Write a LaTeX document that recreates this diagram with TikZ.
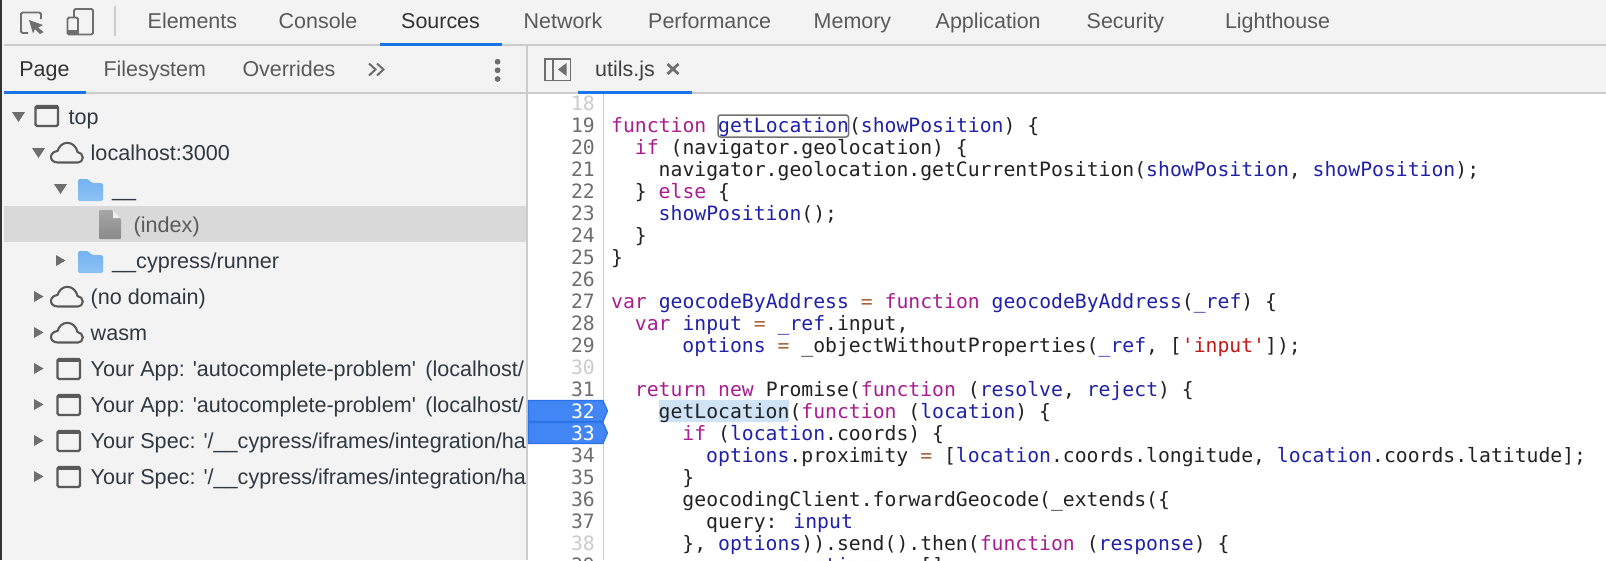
\documentclass[tikz,border=0pt]{standalone}
\usepackage{fontspec}
\setmainfont{Liberation Sans}
\newfontfamily\codefont[Ligatures=NoCommon]{DejaVu Sans Mono}
\definecolor{panelbg}{HTML}{F3F3F3}
\definecolor{rule}{HTML}{CCCCCC}
\definecolor{tabblue}{HTML}{1A73E8}
\definecolor{uitext}{HTML}{5A5A5A}
\definecolor{treetext}{HTML}{303942}
\definecolor{icongrey}{HTML}{6E6E6E}
\definecolor{kwcol}{HTML}{AA1D91}
\definecolor{varcol}{HTML}{1F22A8}
\definecolor{opcol}{HTML}{A8653A}
\definecolor{strcol}{HTML}{C41A16}
\definecolor{codecol}{HTML}{222222}
\definecolor{foldertop}{HTML}{74B2F0}
\definecolor{folderbot}{HTML}{8DC2F5}
\definecolor{bpfill}{HTML}{4285F4}
\definecolor{bpedge}{HTML}{2A73E8}
\definecolor{selrow}{HTML}{D9D9D9}
\definecolor{wordhl}{HTML}{CFE3F7}
\newcommand\kwd[1]{\textcolor{kwcol}{#1}}
\newcommand\vrb[1]{\textcolor{varcol}{#1}}
\newcommand\opr[1]{\textcolor{opcol}{#1}}
\newcommand\strg[1]{\textcolor{strcol}{#1}}
\tikzset{
  x=1pt,y=-1pt,
  uilabel/.style={inner sep=0pt,anchor=base west,text=uitext,font=\fontsize{21.45}{24}\selectfont},
  treelabel/.style={inner sep=0pt,anchor=base west,text=treetext,font=\fontsize{21.6}{24}\selectfont},
  codetext/.style={inner sep=0pt,anchor=base west,text=codecol,font=\codefont\fontsize{19.75}{22}\selectfont},
  gutternum/.style={inner sep=0pt,anchor=base east,text=#1,font=\codefont\fontsize{19.75}{22}\selectfont},
  gutternum/.default={icongrey},
  tri/.style={fill=icongrey,draw=none},
  iconline/.style={draw=icongrey,line width=1.8pt},
  winline/.style={draw=uitext,line width=2.2pt,rounded corners=1.5pt},
  cloudline/.style={draw=uitext,line width=2.1pt,line join=round},
  folder/.style={top color=foldertop,bottom color=folderbot,draw=none,rounded corners=1.5pt},
  bpmark/.style={draw=bpedge,fill=bpfill,line width=1.2pt},
}
\newcommand\codeln[3]{\node[codetext,name=c#1] at ({611+#2*11.88},{132+(#1-19)*22}) {#3};}
\newcommand\gnum[2][icongrey]{\node[gutternum=#1,name=n#2] at (595,{132+(#2-19)*22}) {#2};}
\newcommand\cloudicon[1]{\begin{scope}[shift={(51,#1)}]
  \draw[cloudline] (7,20.5) .. controls (2,20.5) and (0,17.5) .. (0,15) .. controls (0,11.5) and (3,9.5) .. (6.5,9) .. controls (8,4) and (12,0.8) .. (16.5,0.8) .. controls (21.5,0.8) and (25.5,5) .. (26.5,10) .. controls (29.5,10.5) and (31.8,12.5) .. (31.8,15.5) .. controls (31.8,18.5) and (29.5,20.5) .. (27,20.5) -- cycle;
\end{scope}}
\newcommand\winicon[2]{\begin{scope}[shift={(#1,#2)}]
  \draw[winline] (1,1) rectangle (23.5,21);
  \fill[uitext] (1,0) rectangle (23.5,4);
\end{scope}}
\newcommand\folderx[1]{\begin{scope}[shift={(78,#1)}]
  \path[folder] (0,0) -- (10,0) -- (14,4) -- (25,4) -- (25,22) -- (0,22) -- cycle;
\end{scope}}
\newcommand\tridown[2]{\fill[tri] (#1,#2) -- ({#1+13},#2) -- ({#1+6.5},{#2+10}) -- cycle;}
\newcommand\triright[2]{\fill[tri] (#1,#2) -- ({#1+9.5},{#2+5.5}) -- (#1,{#2+11}) -- cycle;}
\begin{document}
\begin{tikzpicture}
\useasboundingbox (0,0) rectangle (1606,560);
% backgrounds
\fill[panelbg] (0,0) rectangle (1606,560);
\fill[white] (527,94) rectangle (1606,560);
\fill[black!80] (0,0) rectangle (2,560);
% rules
\fill[rule] (4,44) rectangle (1606,46);
\fill[rule] (4,92) rectangle (1606,94);
\fill[rule] (525.5,46) rectangle (527.5,560);
\fill[rule] (114,6) rectangle (116,36);
\fill[rule] (602.5,94) rectangle (604,560);
\fill[tabblue] (380,43) rectangle (502,46);
\fill[tabblue] (4,91) rectangle (86,94);
\fill[tabblue] (578,91) rectangle (692,94);
% toolbar icons
\draw[iconline,rounded corners=1.5pt] (28,33) -- (21,33) -- (21,12.5) -- (41,12.5) -- (41,19);
\fill[icongrey] (29,20) -- (43,25) -- (38,27.5) -- (43.5,32) -- (40,34) -- (35,29) -- (33,33.5) -- cycle;
\draw[iconline,rounded corners=1.5pt] (74,17) -- (74,9) -- (93,9) -- (93,34.5) -- (78,34.5);
\draw[iconline,rounded corners=1.5pt] (67.5,17.5) rectangle (78,34.5);
\fill[icongrey] (67.5,29.5) rectangle (78,34.5);
% top tabs
\node[uilabel,name=tElements] at (147.5,28.5) {Elements};
\node[uilabel,name=tConsole] at (278.5,28.5) {Console};
\node[uilabel,name=tSources,text=black!80] at (401,28.5) {Sources};
\node[uilabel,name=tNetwork] at (523.5,28.5) {Network};
\node[uilabel,name=tPerformance] at (648,28.5) {Performance};
\node[uilabel,name=tMemory] at (813.5,28.5) {Memory};
\node[uilabel,name=tApplication] at (935.5,28.5) {Application};
\node[uilabel,name=tSecurity] at (1086.5,28.5) {Security};
\node[uilabel,name=tLighthouse] at (1224.8,28.5) {Lighthouse};
% second row
\node[uilabel,name=pPage,text=black!80] at (19.2,76.5) {Page};
\node[uilabel,name=pFilesystem] at (103.3,76.5) {Filesystem};
\node[uilabel,name=pOverrides] at (242.3,76.5) {Overrides};
\draw[iconline,line width=2pt] (369,63.5) -- (375.5,69.5) -- (369,75.5) (377,63.5) -- (383.5,69.5) -- (377,75.5);
\fill[icongrey] (497.6,61.7) circle (2.9) (497.6,70.3) circle (2.9) (497.6,79) circle (2.9);
% editor tab strip
\draw[iconline,line width=1.6pt] (545,58.8) rectangle (570.5,80.5) (552.7,58.8) -- (552.7,80.5);
\fill[icongrey] (566.5,63) -- (566.5,76) -- (558,69.5) -- cycle;
\node[uilabel,name=fUtils,text=black!75] at (595,76.5) {utils.js};
\draw[iconline,line width=2.7pt] (667.5,64) -- (678.5,74) (678.5,64) -- (667.5,74);
% tree
\fill[selrow] (4,206) rectangle (525.5,242);
\begin{scope}
\clip (4,94) rectangle (525.5,560);
\tridown{12}{112}
\winicon{34.5}{105}
\node[treelabel,name=r1] at (68.5,124.5) {top};
\tridown{32}{148}
\cloudicon{142}
\node[treelabel,name=r2] at (90.5,160.5) {localhost:3000};
\tridown{54}{184}
\folderx{179}
\node[treelabel,name=r3] at (112,196.5) {\_\_};
\begin{scope}[shift={(99,210)}]
  \path[top color=black!35,bottom color=black!46,rounded corners=1pt] (0,0) -- (13,0) -- (22,9) -- (22,29) -- (0,29) -- cycle;
  \fill[black!6] (14,0.5) -- (21.5,8) -- (14,8) -- cycle;
\end{scope}
\node[treelabel,name=r4,text=uitext] at (133.5,232.5) {(index)};
\triright{56}{255}
\folderx{251}
\node[treelabel,name=r5] at (112,268.5) {\_\_cypress/runner};
\triright{34}{291}
\cloudicon{286}
\node[treelabel,name=r6] at (90.5,304.5) {(no domain)};
\triright{34}{327}
\cloudicon{322}
\node[treelabel,name=r7] at (90.5,340.5) {wasm};
\triright{34}{363}
\winicon{56.5}{358}
\node[treelabel,name=r8] at (90.5,376.5) {Your App: \textquotesingle autocomplete-problem\textquotesingle\ \kern3.5pt(localhost/};
\triright{34}{399}
\winicon{56.5}{394}
\node[treelabel,name=r9] at (90.5,412.5) {Your App: \textquotesingle autocomplete-problem\textquotesingle\ \kern3.5pt(localhost/};
\triright{34}{435}
\winicon{56.5}{430}
\node[treelabel,name=r10] at (90.5,448.5) {Your Spec: \textquotesingle/\_\_cypress/iframes/integration/ha};
\triright{34}{471}
\winicon{56.5}{466}
\node[treelabel,name=r11] at (90.5,484.5) {Your Spec: \textquotesingle/\_\_cypress/iframes/integration/ha};
\end{scope}
% code area
\begin{scope}
\clip (527.5,94) rectangle (1606,560);
% highlights behind the text
\draw[draw=black!55,line width=1.5pt,rounded corners=2.5pt] (718,115) rectangle (848.5,137);
\fill[wordhl] (658.5,400) rectangle (789.2,422);
% breakpoints
\draw[bpmark] (528.5,400.5) -- (603,400.5) -- (607.5,411) -- (603,421.5) -- (528.5,421.5) -- cycle;
\draw[bpmark] (528.5,422.5) -- (603,422.5) -- (607.5,433) -- (603,443.5) -- (528.5,443.5) -- cycle;
% line numbers
\gnum[rule]{18}
\gnum{19}\gnum{20}\gnum{21}\gnum{22}\gnum{23}\gnum{24}\gnum{25}\gnum{26}\gnum{27}\gnum{28}\gnum{29}
\gnum[rule]{30}
\gnum{31}
\gnum[white]{32}\gnum[white]{33}
\gnum{34}\gnum{35}\gnum{36}\gnum{37}
\gnum[rule]{38}
\gnum{39}
% code
\codeln{19}{0}{\kwd{function} \vrb{getLocation}(\vrb{showPosition}) \{}
\codeln{20}{2}{\kwd{if} (navigator.geolocation) \{}
\codeln{21}{4}{navigator.geolocation.getCurrentPosition(\vrb{showPosition}, \vrb{showPosition});}
\codeln{22}{2}{\} \kwd{else} \{}
\codeln{23}{4}{\vrb{showPosition}();}
\codeln{24}{2}{\}}
\codeln{25}{0}{\}}
\codeln{27}{0}{\kwd{var} \vrb{geocodeByAddress} \opr{=} \kwd{function} \vrb{geocodeByAddress}(\vrb{\_ref}) \{}
\codeln{28}{2}{\kwd{var} \vrb{input} \opr{=} \vrb{\_ref}.input,}
\codeln{29}{6}{\vrb{options} \opr{=} \_objectWithoutProperties(\vrb{\_ref}, [\strg{\textquotesingle input\textquotesingle}]);}
\codeln{31}{2}{\kwd{return} \kwd{new} Promise(\kwd{function} (\vrb{resolve}, \vrb{reject}) \{}
\codeln{32}{4}{getLocation(\kwd{function} (\vrb{location}) \{}
\codeln{33}{6}{\kwd{if} (\vrb{location}.coords) \{}
\codeln{34}{8}{\vrb{options}.proximity \opr{=} [\vrb{location}.coords.longitude, \vrb{location}.coords.latitude];}
\codeln{35}{6}{\}}
\codeln{36}{6}{geocodingClient.forwardGeocode(\_extends(\{}
\codeln{37}{8}{query: \vrb{input}}
\codeln{38}{6}{\}, \vrb{options})).send().then(\kwd{function} (\vrb{response}) \{}
\codeln{39}{16}{\vrb{options} \opr{=} [];}
\end{scope}
\end{tikzpicture}
\end{document}
